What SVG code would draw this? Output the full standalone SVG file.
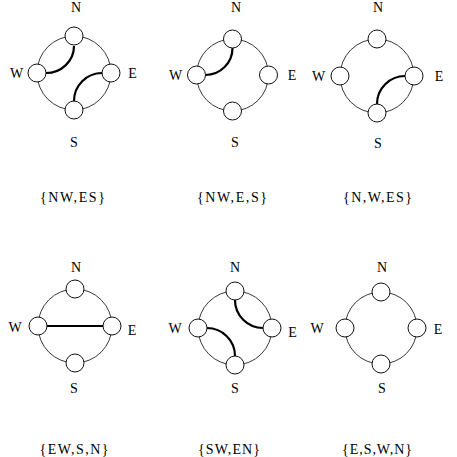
<svg xmlns="http://www.w3.org/2000/svg" width="457" height="457" viewBox="0 0 457 457">
<style>
.ring{fill:none;stroke:#222;stroke-width:0.9}
.thick{fill:none;stroke:#000;stroke-width:2.2}
.node circle{fill:#fff;stroke:#111;stroke-width:1}
text{font-family:"Liberation Serif","Times New Roman",serif;font-size:14px;fill:#000;text-anchor:middle}
</style>
<rect width="457" height="457" fill="#fff"/>
<g id="connectors">
  <circle class="ring" cx="74" cy="73" r="37"/>
  <circle class="ring" cx="232.5" cy="75" r="36"/>
  <circle class="ring" cx="377" cy="76" r="37"/>
  <circle class="ring" cx="75" cy="326" r="37"/>
  <circle class="ring" cx="235" cy="328" r="37"/>
  <circle class="ring" cx="381" cy="328" r="36"/>
  <path class="thick" d="M74,46 A28,27 0 0 1 46,73"/>
  <path class="thick" d="M102,73 A28,28 0 0 0 74,101"/>
  <path class="thick" d="M232.5,48 A27,27 0 0 1 205.5,75"/>
  <path class="thick" d="M405,76 A28,28 0 0 0 377,104"/>
  <path class="thick" d="M47,326 L103,326"/>
  <path class="thick" d="M235,300 A28,28 0 0 0 263,328"/>
  <path class="thick" d="M207,328 A28,28 0 0 1 235,356"/>
</g>
<g id="p1">
  <g id="p1-N" class="node"><circle cx="74" cy="36" r="9"/><text x="76" y="12">N</text></g>
  <g id="p1-W" class="node"><circle cx="37" cy="73" r="9"/><text x="16.5" y="78">W</text></g>
  <g id="p1-E" class="node"><circle cx="111" cy="73" r="9"/><text x="132.5" y="78">E</text></g>
  <g id="p1-S" class="node"><circle cx="74" cy="110" r="9"/><text x="74" y="147">S</text></g>
  <text id="p1-label" x="72.5" y="202" textLength="65" lengthAdjust="spacing">{NW,ES}</text>
</g>
<g id="p2">
  <g id="p2-N" class="node"><circle cx="232.5" cy="39" r="9"/><text x="236" y="12">N</text></g>
  <g id="p2-W" class="node"><circle cx="196.5" cy="75" r="9"/><text x="175.5" y="80">W</text></g>
  <g id="p2-E" class="node"><circle cx="268.5" cy="75" r="9"/><text x="292" y="80">E</text></g>
  <g id="p2-S" class="node"><circle cx="232.5" cy="111" r="9"/><text x="235" y="147">S</text></g>
  <text id="p2-label" x="232" y="202" textLength="70" lengthAdjust="spacing">{NW,E,S}</text>
</g>
<g id="p3">
  <g id="p3-N" class="node"><circle cx="377" cy="39" r="9"/><text x="378" y="12">N</text></g>
  <g id="p3-W" class="node"><circle cx="340" cy="76" r="9"/><text x="318.5" y="81">W</text></g>
  <g id="p3-E" class="node"><circle cx="414" cy="76" r="9"/><text x="439" y="81">E</text></g>
  <g id="p3-S" class="node"><circle cx="377" cy="113" r="9"/><text x="378" y="148">S</text></g>
  <text id="p3-label" x="377.5" y="202" textLength="69" lengthAdjust="spacing">{N,W,ES}</text>
</g>
<g id="p4">
  <g id="p4-N" class="node"><circle cx="75" cy="289" r="9"/><text x="76" y="272">N</text></g>
  <g id="p4-W" class="node"><circle cx="38" cy="326" r="9"/><text x="15" y="332">W</text></g>
  <g id="p4-E" class="node"><circle cx="112" cy="326" r="9"/><text x="132" y="335">E</text></g>
  <g id="p4-S" class="node"><circle cx="75" cy="363" r="9"/><text x="74" y="393">S</text></g>
  <text id="p4-label" x="74" y="454" textLength="69" lengthAdjust="spacing">{EW,S,N}</text>
</g>
<g id="p5">
  <g id="p5-N" class="node"><circle cx="235" cy="291" r="9"/><text x="235" y="272">N</text></g>
  <g id="p5-W" class="node"><circle cx="198" cy="328" r="9"/><text x="175" y="333">W</text></g>
  <g id="p5-E" class="node"><circle cx="272" cy="328" r="9"/><text x="292.5" y="337">E</text></g>
  <g id="p5-S" class="node"><circle cx="235" cy="365" r="9"/><text x="235" y="393">S</text></g>
  <text id="p5-label" x="229" y="454" textLength="62" lengthAdjust="spacing">{SW,EN}</text>
</g>
<g id="p6">
  <g id="p6-N" class="node"><circle cx="381" cy="292" r="9"/><text x="382" y="272">N</text></g>
  <g id="p6-W" class="node"><circle cx="345" cy="328" r="9"/><text x="317" y="333">W</text></g>
  <g id="p6-E" class="node"><circle cx="417" cy="328" r="9"/><text x="438" y="334">E</text></g>
  <g id="p6-S" class="node"><circle cx="381" cy="364" r="9"/><text x="382" y="393">S</text></g>
  <text id="p6-label" x="377" y="454" textLength="70" lengthAdjust="spacing">{E,S,W,N}</text>
</g>
</svg>
